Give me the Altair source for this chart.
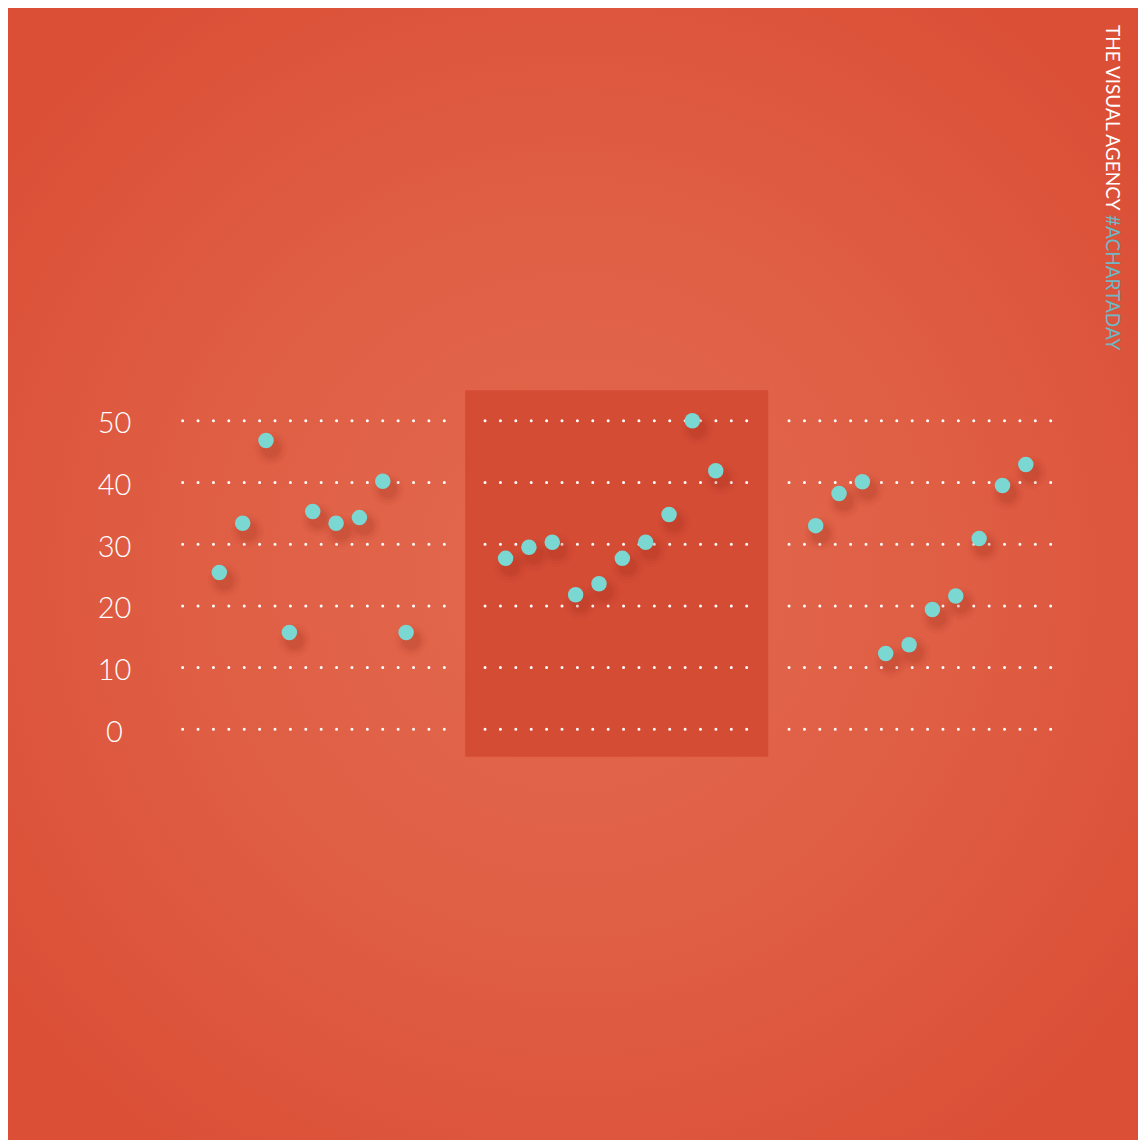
import altair as alt
import pandas as pd

# ---------------- data ----------------
group1 = [25.4, 33.4, 46.8, 15.7, 35.3, 33.4, 34.3, 40.2, 15.7]
group2 = [27.7, 29.5, 30.3, 21.8, 23.6, 27.7, 30.3, 34.8, 50.0, 41.9]
group3 = [33.0, 38.2, 40.1, 12.3, 13.7, 19.4, 21.6, 30.9, 39.5, 42.9]
tick_values = [0, 10, 20, 30, 40, 50]

# ---------------- layout (x in slot units, y in value units) ----------------
W, H = 1130, 1132
SLOT = 23.35
first_slot = [9.05, 21.31, 34.59]
grid_span = [(7.48, 18.69), (20.43, 31.70), (33.45, 44.72)]
highlight = {"x": 19.58, "x2": 32.56, "y": -4.43, "y2": 54.93}
Y_DOMAIN = [-66.54, 116.87]

rows = []
for g, (vals, start) in enumerate(zip([group1, group2, group3], first_slot)):
    for i, v in enumerate(vals):
        rows.append({"group": g + 1, "slot": start + i, "value": v})
dots = pd.DataFrame(rows)

grid = pd.DataFrame(
    [{"x": a, "x2": b, "value": t} for (a, b) in grid_span for t in tick_values]
)
hl = pd.DataFrame([highlight])

xs = alt.Scale(domain=[0, W / SLOT], nice=False, zero=False)
ys = alt.Scale(domain=Y_DOMAIN, nice=False, zero=False)

yaxis = alt.Axis(
    values=tick_values, orient="left", offset=-106, domain=False, ticks=False,
    tickSize=0, grid=False, labelPadding=0, labelAlign="center",
    labelBaseline="middle", labelOffset=3, labelFont="Lato", labelFontWeight=300,
    labelFontSize=29, labelColor="#FFFFFF", title=None, zindex=1,
)

bg = alt.Chart(alt.Data(values=[{}])).mark_rect(
    color={
        "gradient": "radial",
        "x1": 0.5, "y1": 0.5, "r1": 0,
        "x2": 0.5, "y2": 0.5, "r2": 0.62,
        "stops": [
            {"offset": 0, "color": "#E2694E"},
            {"offset": 0.55, "color": "#DF5E44"},
            {"offset": 1, "color": "#DB4F37"},
        ],
    }
).encode(x=alt.value(0), x2=alt.value(W), y=alt.value(0), y2=alt.value(H))

rect = alt.Chart(hl).mark_rect(color="#D54C35").encode(
    x=alt.X("x:Q", scale=xs, axis=None),
    x2="x2:Q",
    y=alt.Y("y:Q", scale=ys, axis=yaxis),
    y2="y2:Q",
)

rules = alt.Chart(grid).mark_rule(
    color="#FFFFFF", strokeWidth=3, strokeCap="round", strokeDash=[0.001, 15.39]
).encode(
    x=alt.X("x:Q", scale=xs, axis=None),
    x2="x2:Q",
    y=alt.Y("value:Q", scale=ys, axis=yaxis),
)

def shadow(size, opacity):
    return alt.Chart(dots).mark_circle(
        color="#8E2412", opacity=opacity, size=size, xOffset=5, yOffset=8
    ).encode(
        x=alt.X("slot:Q", scale=xs, axis=None),
        y=alt.Y("value:Q", scale=ys, axis=yaxis),
    )

points = alt.Chart(dots).mark_circle(color="#7AD7D2", opacity=1, size=240).encode(
    x=alt.X("slot:Q", scale=xs, axis=None),
    y=alt.Y("value:Q", scale=ys, axis=yaxis),
)

credit1 = alt.Chart(alt.Data(values=[{}])).mark_text(
    text="THE VISUAL AGENCY", angle=90, align="left", baseline="middle",
    font="Lato", fontSize=19, color="#FFFFFF",
).encode(x=alt.value(1104), y=alt.value(17))

credit2 = alt.Chart(alt.Data(values=[{}])).mark_text(
    text="#ACHARTADAY", angle=90, align="left", baseline="middle",
    font="Lato", fontSize=19, color="#6FB8C6",
).encode(x=alt.value(1104), y=alt.value(207))

chart = alt.layer(
    bg, rect, rules,
    shadow(1100, 0.035), shadow(750, 0.05), shadow(480, 0.065), shadow(300, 0.08),
    points, credit1, credit2,
).properties(
    width=W, height=H, padding=0,
    autosize=alt.AutoSizeParams(type="none"),
    background="#DB4F37",
).configure_view(stroke=None)

chart.save("out.html", embed_options={"renderer": "svg", "actions": False})
